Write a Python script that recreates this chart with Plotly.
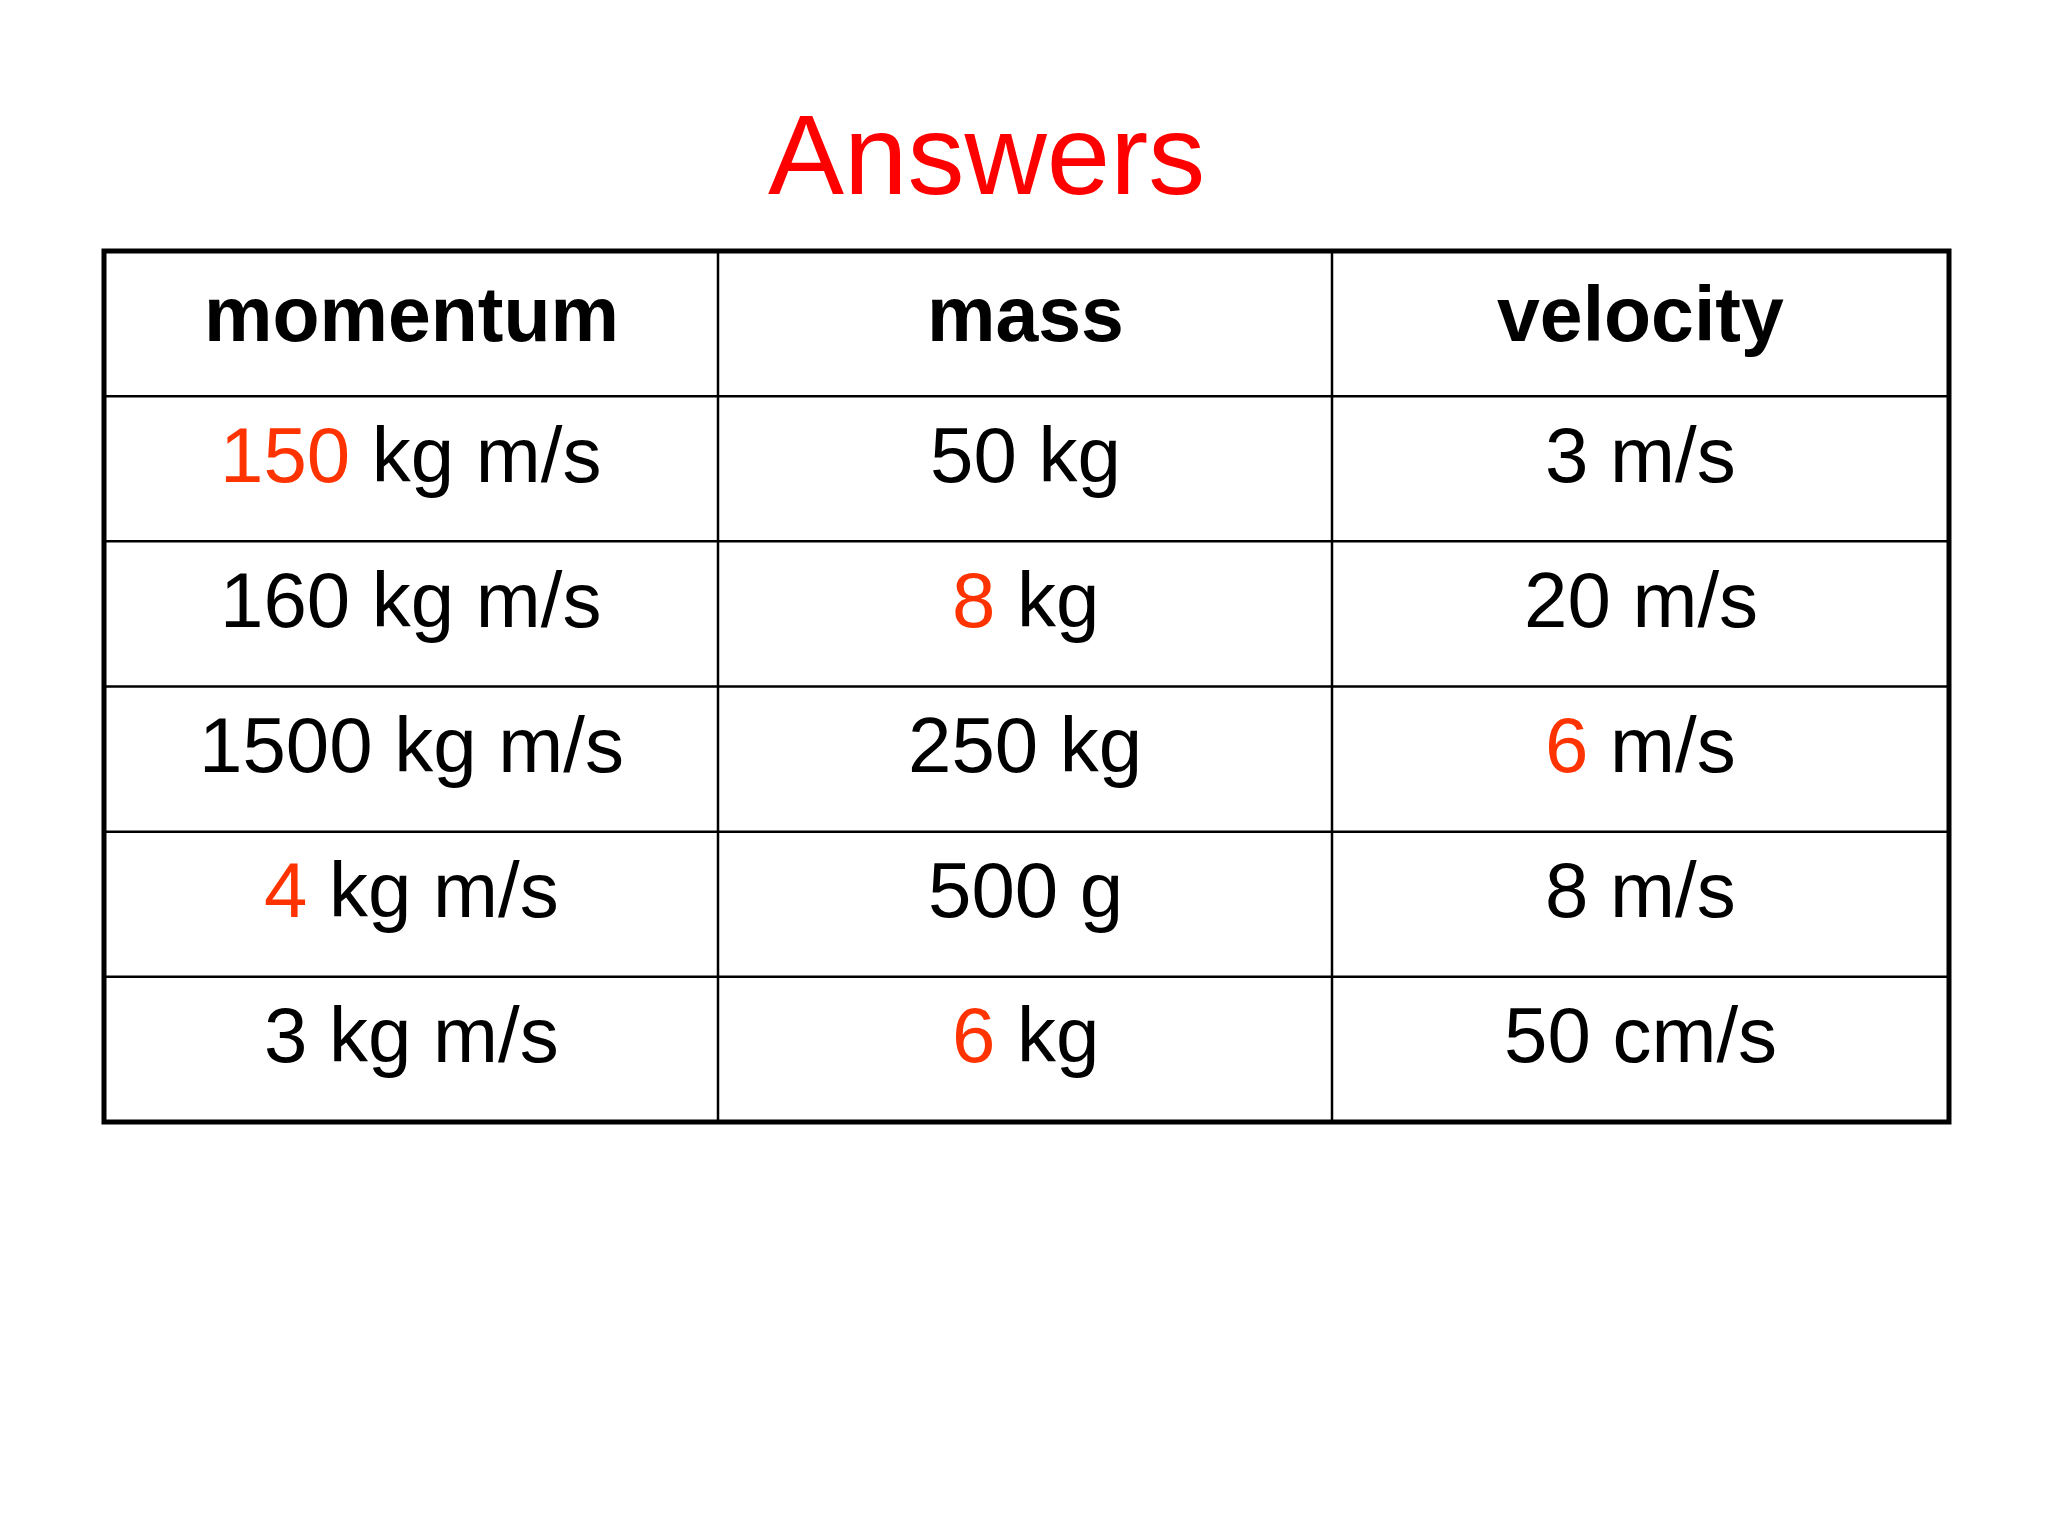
import plotly.graph_objects as go

title = "Answers"
headers = ["momentum", "mass", "velocity"]
# each cell: (number, unit, is_answer)
momentum = [("150", "kg m/s", True), ("160", "kg m/s", False), ("1500", "kg m/s", False), ("4", "kg m/s", True), ("3", "kg m/s", False)]
mass = [("50", "kg", False), ("8", "kg", True), ("250", "kg", False), ("500", "g", False), ("6", "kg", True)]
velocity = [("3", "m/s", False), ("20", "m/s", False), ("6", "m/s", True), ("8", "m/s", False), ("50", "cm/s", False)]
columns = [momentum, mass, velocity]

W, H = 2048, 1536
left, right, top, bottom = 96, 1941, 243, 1114
col_x = [left, 710, 1324, right]
n_rows = len(momentum) + 1
row_h = (bottom - top) / n_rows
row_y = [top + i * row_h for i in range(n_rows + 1)]
RED = "#FF3300"

fig = go.Figure()
shapes = []
for x in col_x[1:-1]:
    shapes.append(dict(type="line", x0=x, x1=x, y0=top, y1=bottom, line=dict(color="black", width=2.5)))
for y in row_y[1:-1]:
    shapes.append(dict(type="line", x0=left, x1=right, y0=y, y1=y, line=dict(color="black", width=2.5)))
shapes.append(dict(type="rect", x0=left, x1=right, y0=top, y1=bottom, line=dict(color="black", width=5)))
for s in shapes:
    s.update(xref="x", yref="y")

ann = [dict(x=978, y=146, text=title, showarrow=False, xref="x", yref="y",
            font=dict(size=114, color="#FF0000", family="Liberation Sans, Arial"))]
for c, h in enumerate(headers):
    cx = (col_x[c] + col_x[c + 1]) / 2
    ann.append(dict(x=cx, y=(row_y[0] + row_y[1]) / 2 - 10, text="<b>%s</b>" % h, showarrow=False,
                    xref="x", yref="y", font=dict(size=77, color="black", family="Liberation Sans, Arial")))
    for r, (num, unit, red) in enumerate(columns[c]):
        numtxt = "<span style='color:%s'>%s</span>" % (RED, num) if red else num
        ann.append(dict(x=cx, y=(row_y[r + 1] + row_y[r + 2]) / 2 - 14, text=numtxt + " " + unit,
                        showarrow=False, xref="x", yref="y",
                        font=dict(size=78, color="black", family="Liberation Sans, Arial")))

fig.update_layout(width=W, height=H, margin=dict(l=0, r=0, t=0, b=0),
                  paper_bgcolor="white", plot_bgcolor="white", shapes=shapes, annotations=ann,
                  xaxis=dict(range=[0, W], visible=False, fixedrange=True),
                  yaxis=dict(range=[H, 0], visible=False, fixedrange=True), showlegend=False)
fig.write_html("out.html")
